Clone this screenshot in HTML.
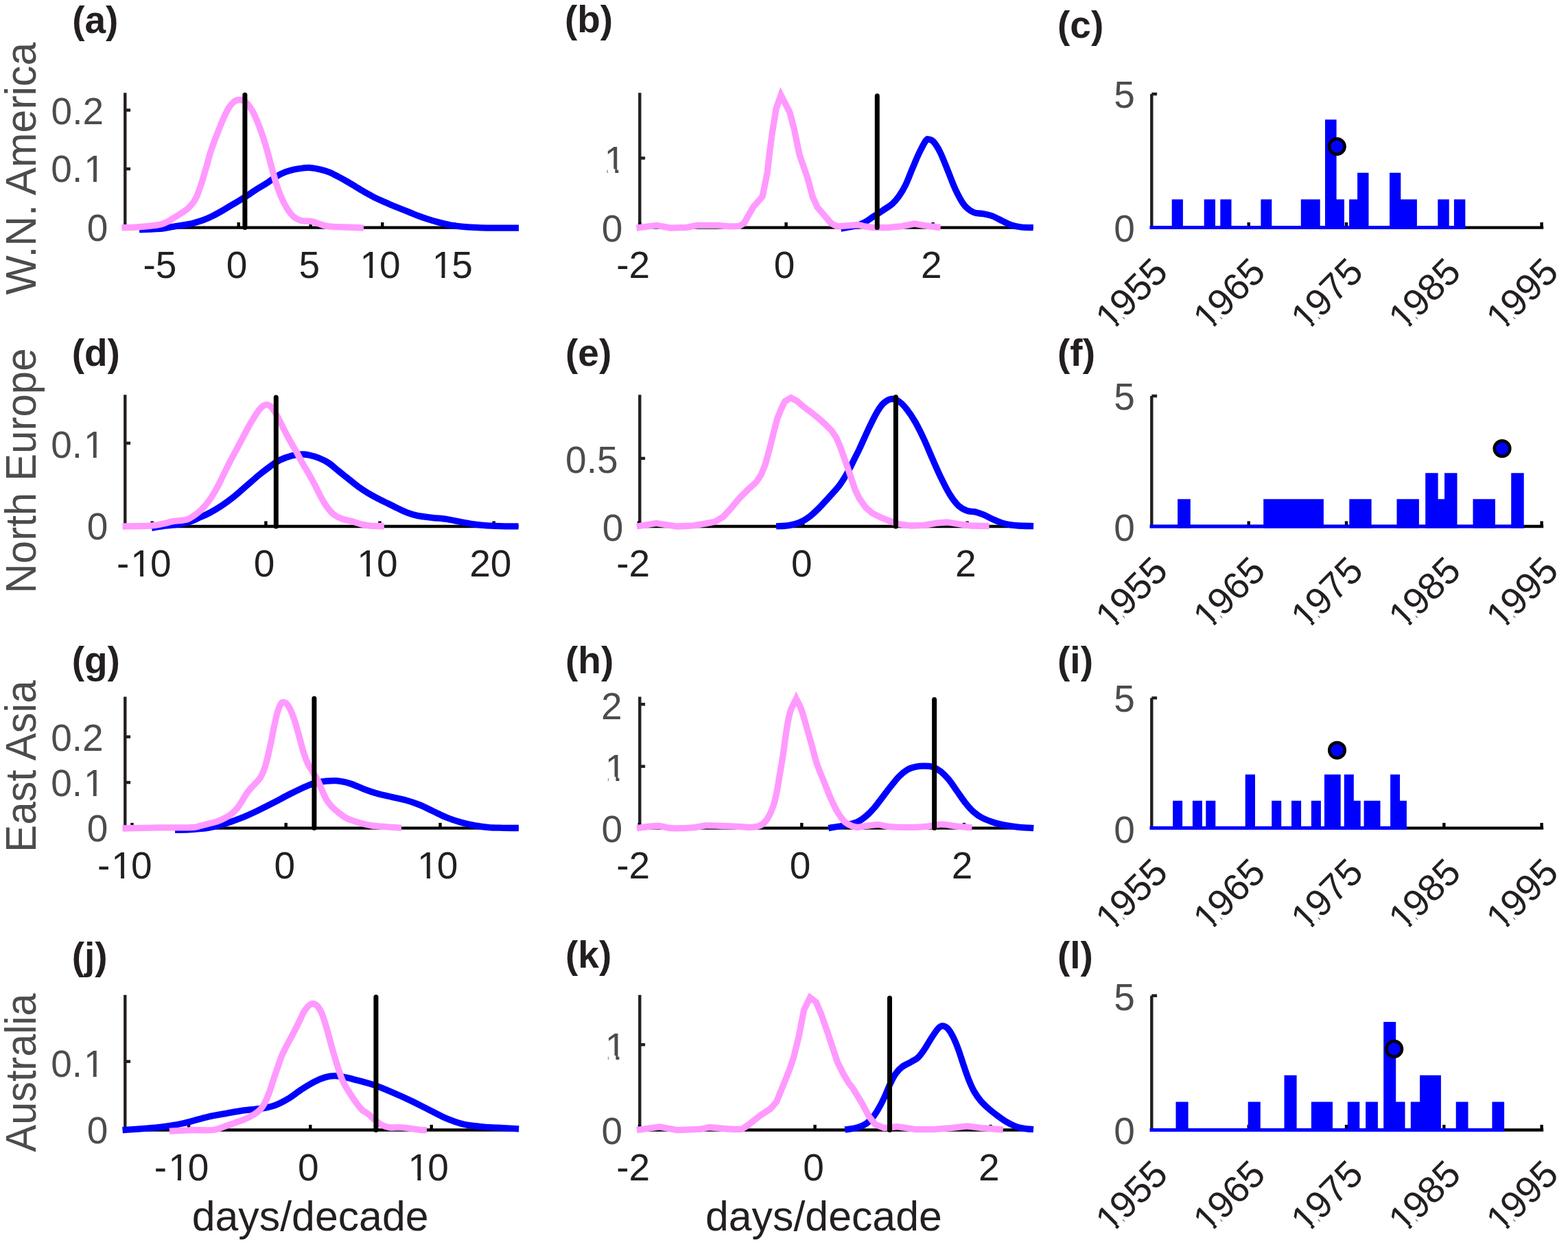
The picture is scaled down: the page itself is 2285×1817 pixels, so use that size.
<!DOCTYPE html>
<html><head><meta charset="utf-8"><style>
html,body{margin:0;padding:0;background:#fff;}
svg{display:block;}
text{font-family:"Liberation Sans",Arial,sans-serif;}
</style></head><body>
<svg xmlns="http://www.w3.org/2000/svg" width="2285" height="1817" viewBox="0 0 2285 1817">
<rect x="0" y="0" width="2285" height="1817" fill="#ffffff"/>
<line x1="182.3" y1="135.2" x2="182.3" y2="333.8" stroke="#231f20" stroke-width="4.4" stroke-linecap="butt"/>
<line x1="182.3" y1="246.1" x2="190.1" y2="246.1" stroke="#231f20" stroke-width="4.4" stroke-linecap="butt"/>
<line x1="182.3" y1="160.5" x2="190.1" y2="160.5" stroke="#231f20" stroke-width="4.4" stroke-linecap="butt"/>
<line x1="180.1" y1="331.6" x2="755.7" y2="331.6" stroke="#000000" stroke-width="4.4" stroke-linecap="butt"/>
<line x1="243.2" y1="331.6" x2="243.2" y2="324" stroke="#000000" stroke-width="4.4" stroke-linecap="butt"/>
<line x1="347.7" y1="331.6" x2="347.7" y2="324" stroke="#000000" stroke-width="4.4" stroke-linecap="butt"/>
<line x1="452.7" y1="331.6" x2="452.7" y2="324" stroke="#000000" stroke-width="4.4" stroke-linecap="butt"/>
<line x1="557.2" y1="331.6" x2="557.2" y2="324" stroke="#000000" stroke-width="4.4" stroke-linecap="butt"/>
<line x1="661.7" y1="331.6" x2="661.7" y2="324" stroke="#000000" stroke-width="4.4" stroke-linecap="butt"/>
<line x1="932.3" y1="135.2" x2="932.3" y2="333.8" stroke="#231f20" stroke-width="4.4" stroke-linecap="butt"/>
<line x1="932.3" y1="230.4" x2="940.1" y2="230.4" stroke="#231f20" stroke-width="4.4" stroke-linecap="butt"/>
<line x1="930.1" y1="331.6" x2="1505.7" y2="331.6" stroke="#000000" stroke-width="4.4" stroke-linecap="butt"/>
<line x1="932.4" y1="331.6" x2="932.4" y2="324" stroke="#000000" stroke-width="4.4" stroke-linecap="butt"/>
<line x1="1145.6" y1="331.6" x2="1145.6" y2="324" stroke="#000000" stroke-width="4.4" stroke-linecap="butt"/>
<line x1="1359.5" y1="331.6" x2="1359.5" y2="324" stroke="#000000" stroke-width="4.4" stroke-linecap="butt"/>
<line x1="1678.3" y1="137" x2="1678.3" y2="333.8" stroke="#231f20" stroke-width="4.4" stroke-linecap="butt"/>
<line x1="1678.3" y1="137" x2="1686.1" y2="137" stroke="#231f20" stroke-width="4.4" stroke-linecap="butt"/>
<line x1="1676.1" y1="331.6" x2="2249.2" y2="331.6" stroke="#000000" stroke-width="4.4" stroke-linecap="butt"/>
<line x1="1819.7" y1="331.6" x2="1819.7" y2="324" stroke="#000000" stroke-width="4.4" stroke-linecap="butt"/>
<line x1="1962" y1="331.6" x2="1962" y2="324" stroke="#000000" stroke-width="4.4" stroke-linecap="butt"/>
<line x1="2104.3" y1="331.6" x2="2104.3" y2="324" stroke="#000000" stroke-width="4.4" stroke-linecap="butt"/>
<line x1="2246.6" y1="331.6" x2="2246.6" y2="324" stroke="#000000" stroke-width="4.4" stroke-linecap="butt"/>
<line x1="182.3" y1="575.2" x2="182.3" y2="769.2" stroke="#231f20" stroke-width="4.4" stroke-linecap="butt"/>
<line x1="182.3" y1="645.7" x2="190.1" y2="645.7" stroke="#231f20" stroke-width="4.4" stroke-linecap="butt"/>
<line x1="180.1" y1="767" x2="755.7" y2="767" stroke="#000000" stroke-width="4.4" stroke-linecap="butt"/>
<line x1="221.7" y1="767" x2="221.7" y2="759.4" stroke="#000000" stroke-width="4.4" stroke-linecap="butt"/>
<line x1="387.4" y1="767" x2="387.4" y2="759.4" stroke="#000000" stroke-width="4.4" stroke-linecap="butt"/>
<line x1="553.5" y1="767" x2="553.5" y2="759.4" stroke="#000000" stroke-width="4.4" stroke-linecap="butt"/>
<line x1="719.7" y1="767" x2="719.7" y2="759.4" stroke="#000000" stroke-width="4.4" stroke-linecap="butt"/>
<line x1="932.3" y1="575.2" x2="932.3" y2="769.2" stroke="#231f20" stroke-width="4.4" stroke-linecap="butt"/>
<line x1="932.3" y1="667.9" x2="940.1" y2="667.9" stroke="#231f20" stroke-width="4.4" stroke-linecap="butt"/>
<line x1="930.1" y1="767" x2="1505.7" y2="767" stroke="#000000" stroke-width="4.4" stroke-linecap="butt"/>
<line x1="931" y1="767" x2="931" y2="759.4" stroke="#000000" stroke-width="4.4" stroke-linecap="butt"/>
<line x1="1170.3" y1="767" x2="1170.3" y2="759.4" stroke="#000000" stroke-width="4.4" stroke-linecap="butt"/>
<line x1="1409.6" y1="767" x2="1409.6" y2="759.4" stroke="#000000" stroke-width="4.4" stroke-linecap="butt"/>
<line x1="1678.3" y1="577" x2="1678.3" y2="769.2" stroke="#231f20" stroke-width="4.4" stroke-linecap="butt"/>
<line x1="1678.3" y1="577" x2="1686.1" y2="577" stroke="#231f20" stroke-width="4.4" stroke-linecap="butt"/>
<line x1="1676.1" y1="767" x2="2249.2" y2="767" stroke="#000000" stroke-width="4.4" stroke-linecap="butt"/>
<line x1="1819.7" y1="767" x2="1819.7" y2="759.4" stroke="#000000" stroke-width="4.4" stroke-linecap="butt"/>
<line x1="1962" y1="767" x2="1962" y2="759.4" stroke="#000000" stroke-width="4.4" stroke-linecap="butt"/>
<line x1="2104.3" y1="767" x2="2104.3" y2="759.4" stroke="#000000" stroke-width="4.4" stroke-linecap="butt"/>
<line x1="2246.6" y1="767" x2="2246.6" y2="759.4" stroke="#000000" stroke-width="4.4" stroke-linecap="butt"/>
<line x1="182.3" y1="1015.2" x2="182.3" y2="1208.8" stroke="#231f20" stroke-width="4.4" stroke-linecap="butt"/>
<line x1="182.3" y1="1140.1" x2="190.1" y2="1140.1" stroke="#231f20" stroke-width="4.4" stroke-linecap="butt"/>
<line x1="182.3" y1="1073.6" x2="190.1" y2="1073.6" stroke="#231f20" stroke-width="4.4" stroke-linecap="butt"/>
<line x1="180.1" y1="1206.6" x2="755.7" y2="1206.6" stroke="#000000" stroke-width="4.4" stroke-linecap="butt"/>
<line x1="192.5" y1="1206.6" x2="192.5" y2="1199" stroke="#000000" stroke-width="4.4" stroke-linecap="butt"/>
<line x1="416.7" y1="1206.6" x2="416.7" y2="1199" stroke="#000000" stroke-width="4.4" stroke-linecap="butt"/>
<line x1="641.5" y1="1206.6" x2="641.5" y2="1199" stroke="#000000" stroke-width="4.4" stroke-linecap="butt"/>
<line x1="932.3" y1="1015.2" x2="932.3" y2="1208.8" stroke="#231f20" stroke-width="4.4" stroke-linecap="butt"/>
<line x1="932.3" y1="1116.7" x2="940.1" y2="1116.7" stroke="#231f20" stroke-width="4.4" stroke-linecap="butt"/>
<line x1="932.3" y1="1026.2" x2="940.1" y2="1026.2" stroke="#231f20" stroke-width="4.4" stroke-linecap="butt"/>
<line x1="930.1" y1="1206.6" x2="1505.7" y2="1206.6" stroke="#000000" stroke-width="4.4" stroke-linecap="butt"/>
<line x1="931.7" y1="1206.6" x2="931.7" y2="1199" stroke="#000000" stroke-width="4.4" stroke-linecap="butt"/>
<line x1="1168.3" y1="1206.6" x2="1168.3" y2="1199" stroke="#000000" stroke-width="4.4" stroke-linecap="butt"/>
<line x1="1404.9" y1="1206.6" x2="1404.9" y2="1199" stroke="#000000" stroke-width="4.4" stroke-linecap="butt"/>
<line x1="1678.3" y1="1017" x2="1678.3" y2="1208.8" stroke="#231f20" stroke-width="4.4" stroke-linecap="butt"/>
<line x1="1678.3" y1="1017" x2="1686.1" y2="1017" stroke="#231f20" stroke-width="4.4" stroke-linecap="butt"/>
<line x1="1676.1" y1="1206.6" x2="2249.2" y2="1206.6" stroke="#000000" stroke-width="4.4" stroke-linecap="butt"/>
<line x1="1819.7" y1="1206.6" x2="1819.7" y2="1199" stroke="#000000" stroke-width="4.4" stroke-linecap="butt"/>
<line x1="1962" y1="1206.6" x2="1962" y2="1199" stroke="#000000" stroke-width="4.4" stroke-linecap="butt"/>
<line x1="2104.3" y1="1206.6" x2="2104.3" y2="1199" stroke="#000000" stroke-width="4.4" stroke-linecap="butt"/>
<line x1="2246.6" y1="1206.6" x2="2246.6" y2="1199" stroke="#000000" stroke-width="4.4" stroke-linecap="butt"/>
<line x1="182.3" y1="1449.8" x2="182.3" y2="1648.7" stroke="#231f20" stroke-width="4.4" stroke-linecap="butt"/>
<line x1="182.3" y1="1546.7" x2="190.1" y2="1546.7" stroke="#231f20" stroke-width="4.4" stroke-linecap="butt"/>
<line x1="180.1" y1="1646.5" x2="755.7" y2="1646.5" stroke="#000000" stroke-width="4.4" stroke-linecap="butt"/>
<line x1="275.1" y1="1646.5" x2="275.1" y2="1638.9" stroke="#000000" stroke-width="4.4" stroke-linecap="butt"/>
<line x1="452.3" y1="1646.5" x2="452.3" y2="1638.9" stroke="#000000" stroke-width="4.4" stroke-linecap="butt"/>
<line x1="628.7" y1="1646.5" x2="628.7" y2="1638.9" stroke="#000000" stroke-width="4.4" stroke-linecap="butt"/>
<line x1="932.3" y1="1449.8" x2="932.3" y2="1648.7" stroke="#231f20" stroke-width="4.4" stroke-linecap="butt"/>
<line x1="932.3" y1="1522.2" x2="940.1" y2="1522.2" stroke="#231f20" stroke-width="4.4" stroke-linecap="butt"/>
<line x1="930.1" y1="1646.5" x2="1505.7" y2="1646.5" stroke="#000000" stroke-width="4.4" stroke-linecap="butt"/>
<line x1="931.9" y1="1646.5" x2="931.9" y2="1638.9" stroke="#000000" stroke-width="4.4" stroke-linecap="butt"/>
<line x1="1187.6" y1="1646.5" x2="1187.6" y2="1638.9" stroke="#000000" stroke-width="4.4" stroke-linecap="butt"/>
<line x1="1443.5" y1="1646.5" x2="1443.5" y2="1638.9" stroke="#000000" stroke-width="4.4" stroke-linecap="butt"/>
<line x1="1678.3" y1="1450.8" x2="1678.3" y2="1648.7" stroke="#231f20" stroke-width="4.4" stroke-linecap="butt"/>
<line x1="1678.3" y1="1450.8" x2="1686.1" y2="1450.8" stroke="#231f20" stroke-width="4.4" stroke-linecap="butt"/>
<line x1="1676.1" y1="1646.5" x2="2249.2" y2="1646.5" stroke="#000000" stroke-width="4.4" stroke-linecap="butt"/>
<line x1="1819.7" y1="1646.5" x2="1819.7" y2="1638.9" stroke="#000000" stroke-width="4.4" stroke-linecap="butt"/>
<line x1="1962" y1="1646.5" x2="1962" y2="1638.9" stroke="#000000" stroke-width="4.4" stroke-linecap="butt"/>
<line x1="2104.3" y1="1646.5" x2="2104.3" y2="1638.9" stroke="#000000" stroke-width="4.4" stroke-linecap="butt"/>
<line x1="2246.6" y1="1646.5" x2="2246.6" y2="1638.9" stroke="#000000" stroke-width="4.4" stroke-linecap="butt"/>
<path d="M203,334.5 C208.63,334.25 228.7,333.68 236.8,333 C244.9,332.32 246.65,331.2 251.6,330.4 C256.55,329.6 261.55,329.07 266.5,328.2 C271.45,327.33 276.35,326.45 281.3,325.2 C286.25,323.95 291.25,322.55 296.2,320.7 C301.15,318.85 306.08,316.55 311,314.1 C315.92,311.65 321.12,308.63 325.7,306 C330.28,303.37 334.23,300.87 338.5,298.3 C342.77,295.73 347.02,293.27 351.3,290.6 C355.58,287.93 359.92,285.08 364.2,282.3 C368.48,279.52 372.72,276.58 377,273.9 C381.28,271.22 385.62,268.98 389.9,266.2 C394.18,263.42 398.43,259.77 402.7,257.2 C406.97,254.63 411.22,252.5 415.5,250.8 C419.78,249.1 424.12,247.97 428.4,247 C432.68,246.03 437.35,245.43 441.2,245 C445.05,244.57 447.22,244.07 451.5,244.4 C455.78,244.73 462.15,245.9 466.9,247 C471.65,248.1 475.65,249.25 480,251 C484.35,252.75 488.67,255.23 493,257.5 C497.33,259.77 501.67,262.12 506,264.6 C510.33,267.08 514.67,269.8 519,272.4 C523.33,275 527.68,277.72 532,280.2 C536.32,282.68 540.58,285.13 544.9,287.3 C549.22,289.47 553.57,291.25 557.9,293.2 C562.23,295.15 566.57,297.17 570.9,299 C575.23,300.83 579.57,302.47 583.9,304.2 C588.23,305.93 592.57,307.67 596.9,309.4 C601.23,311.13 605.57,312.97 609.9,314.6 C614.23,316.23 618.58,317.78 622.9,319.2 C627.22,320.62 631.48,321.92 635.8,323.1 C640.12,324.28 644.47,325.33 648.8,326.3 C653.13,327.27 656.38,328.15 661.8,328.9 C667.22,329.65 674.8,330.32 681.3,330.8 C687.8,331.28 693.22,331.58 700.8,331.8 C708.38,332.02 717.6,332.05 726.8,332.1 C736,332.15 751.13,332.1 756,332.1" fill="none" stroke="#0000ff" stroke-width="9.3" stroke-linejoin="round" stroke-miterlimit="10" stroke-linecap="butt"/>
<path d="M177.4,331.9 C181.12,331.72 192.27,331.3 199.7,330.8 C207.13,330.3 216.07,329.58 222,328.9 C227.93,328.22 231.6,327.68 235.3,326.7 C239,325.72 241.48,324.37 244.2,323 C246.92,321.63 248.5,320.42 251.6,318.5 C254.7,316.58 259.08,313.97 262.8,311.5 C266.52,309.03 270.82,306.37 273.9,303.7 C276.98,301.03 279.32,298.1 281.3,295.5 C283.28,292.9 284.32,291.18 285.8,288.1 C287.28,285.02 288.72,281.08 290.2,277 C291.68,272.92 293.33,267.93 294.7,263.6 C296.07,259.27 297.17,255.2 298.4,251 C299.63,246.8 300.77,243.13 302.1,238.4 C303.43,233.67 304.62,228.23 306.4,222.6 C308.18,216.97 310.65,210.38 312.8,204.6 C314.95,198.82 317.15,193.25 319.3,187.9 C321.45,182.55 323.35,177.63 325.7,172.5 C328.05,167.37 330.83,161.17 333.4,157.1 C335.97,153.03 338.53,150.03 341.1,148.1 C343.67,146.17 346.23,145.6 348.8,145.5 C351.37,145.4 353.93,145.78 356.5,147.5 C359.07,149.22 361.63,152.07 364.2,155.8 C366.77,159.53 369.33,164.33 371.9,169.9 C374.47,175.47 377.03,182.13 379.6,189.2 C382.17,196.27 384.73,203.75 387.3,212.3 C389.87,220.85 392.65,231.95 395,240.5 C397.35,249.05 399.05,256.1 401.4,263.6 C403.75,271.1 406.32,278.87 409.1,285.5 C411.88,292.13 414.88,298.27 418.1,303.4 C421.32,308.53 424.98,313.3 428.4,316.3 C431.82,319.3 434.33,320.33 438.6,321.4 C442.87,322.47 449.72,321.95 454,322.7 C458.28,323.45 460.87,324.83 464.3,325.9 C467.73,326.97 471.15,328.35 474.6,329.1 C478.05,329.85 480.85,330.12 485,330.4 C489.15,330.68 492,330.52 499.5,330.8 C507,331.08 524.92,331.88 530,332.1" fill="none" stroke="#ff99ff" stroke-width="9.3" stroke-linejoin="round" stroke-miterlimit="10" stroke-linecap="butt"/>
<line x1="356.9" y1="138.2" x2="356.9" y2="331.6" stroke="#000000" stroke-width="7" stroke-linecap="round"/>
<path d="M1225.3,333.1 C1228.55,332.52 1239.23,331 1244.8,329.6 C1250.37,328.2 1254.07,327.02 1258.7,324.7 C1263.33,322.38 1267.97,318.72 1272.6,315.7 C1277.23,312.68 1281.87,309.73 1286.5,306.6 C1291.13,303.47 1296.45,300.38 1300.4,296.9 C1304.35,293.42 1306.95,290.35 1310.2,285.7 C1313.45,281.05 1316.65,275.72 1319.9,269 C1323.15,262.28 1326.45,253.05 1329.7,245.4 C1332.95,237.75 1336.17,229.83 1339.4,223.1 C1342.63,216.37 1346.78,208.35 1349.1,205 C1351.42,201.65 1351.43,202.77 1353.3,203 C1355.17,203.23 1357.52,203.28 1360.3,206.4 C1363.08,209.52 1366.53,214.73 1370,221.7 C1373.47,228.67 1377.38,239.15 1381.1,248.2 C1384.82,257.25 1388.35,267.65 1392.3,276 C1396.25,284.35 1400.4,292.73 1404.8,298.3 C1409.2,303.87 1414.07,307.2 1418.7,309.4 C1423.33,311.6 1427.97,310.57 1432.6,311.5 C1437.23,312.43 1441.85,313.27 1446.5,315 C1451.15,316.73 1455.85,319.7 1460.5,321.9 C1465.15,324.1 1469.77,326.68 1474.4,328.2 C1479.03,329.72 1483.08,330.42 1488.3,331 C1493.52,331.58 1502.8,331.58 1505.7,331.7" fill="none" stroke="#0000ff" stroke-width="9.3" stroke-linejoin="round" stroke-miterlimit="10" stroke-linecap="butt"/>
<polyline points="927.5,332.1 956.9,328.4 976.5,332.1 1001,331.4 1015.7,328.4 1045,328.4 1059.8,329.7 1070,329.9 1077.7,329.3 1084.1,325.4 1097.6,301.7 1111.1,286.3 1118.1,252.2 1121.4,222.7 1125.2,194.5 1131,158.5 1138,138.6 1150.9,163.7 1157.3,188 1165,225.3 1176.6,258.7 1184.3,286.9 1191.3,302.3 1211.2,325.4 1220.2,329.9 1236.9,328.6 1250,327.5 1258.7,329.6 1272.6,331.7 1293.5,331.7 1314.4,329.6 1332.4,326.1 1349.1,328.9 1370.7,331.7" fill="none" stroke="#ff99ff" stroke-width="9.3" stroke-linejoin="miter" stroke-miterlimit="10" stroke-linecap="butt"/>
<line x1="1278.3" y1="139.8" x2="1278.3" y2="331.6" stroke="#000000" stroke-width="7" stroke-linecap="round"/>
<path d="M221,769.4 C224.17,768.87 233.85,767.03 240,766.2 C246.15,765.37 252.32,765.2 257.9,764.4 C263.48,763.6 268.5,762.9 273.5,761.4 C278.5,759.9 282.52,757.78 287.9,755.4 C293.28,753.02 299.83,750.28 305.8,747.1 C311.77,743.92 317.72,740.3 323.7,736.3 C329.68,732.3 335.72,727.88 341.7,723.1 C347.68,718.32 353.62,712.78 359.6,707.6 C365.58,702.42 372.02,696.58 377.6,692 C383.18,687.42 388.12,683.68 393.1,680.1 C398.08,676.52 402.12,673.2 407.5,670.5 C412.88,667.8 419.98,665.32 425.4,663.9 C430.82,662.48 435.9,662.15 440,662 C444.1,661.85 445.93,662.12 450,663 C454.07,663.88 459.6,665.38 464.4,667.3 C469.2,669.22 474.02,671.38 478.8,674.5 C483.58,677.62 488.32,682.17 493.1,686 C497.88,689.83 502.7,693.67 507.5,697.5 C512.3,701.33 517.1,705.52 521.9,709 C526.7,712.48 531.52,715.52 536.3,718.4 C541.08,721.28 545.82,723.78 550.6,726.3 C555.38,728.82 560.2,731.12 565,733.5 C569.8,735.88 574.6,738.33 579.4,740.6 C584.2,742.87 589,745.3 593.8,747.1 C598.6,748.9 602.22,750.2 608.2,751.4 C614.18,752.6 622.52,753.45 629.7,754.3 C636.88,755.15 644.1,755.42 651.3,756.5 C658.5,757.58 665.72,759.48 672.9,760.8 C680.08,762.12 687.22,763.5 694.4,764.4 C701.58,765.3 708.8,765.8 716,766.2 C723.2,766.6 731.02,766.7 737.6,766.8 C744.18,766.9 752.52,766.8 755.5,766.8" fill="none" stroke="#0000ff" stroke-width="9.3" stroke-linejoin="round" stroke-miterlimit="10" stroke-linecap="butt"/>
<path d="M178.5,767 C185.7,766.82 211.45,766.63 221.7,765.9 C231.95,765.17 234.95,763.65 240,762.6 C245.05,761.55 248.02,760.3 252,759.6 C255.98,758.9 260.32,758.9 263.9,758.4 C267.48,757.9 270.5,757.7 273.5,756.6 C276.5,755.5 278.52,754.18 281.9,751.8 C285.28,749.42 289.82,746.28 293.8,742.3 C297.78,738.32 302,733.28 305.8,727.9 C309.6,722.52 313.22,716.18 316.6,710 C319.98,703.82 322.92,697.18 326.1,690.8 C329.28,684.42 332.5,677.88 335.7,671.7 C338.9,665.52 342.12,659.68 345.3,653.7 C348.48,647.72 351.62,641.77 354.8,635.8 C357.98,629.83 361.2,623.48 364.4,617.9 C367.6,612.32 371.2,606.4 374,602.3 C376.8,598.2 378.82,595.4 381.2,593.3 C383.58,591.2 386.12,589.9 388.3,589.7 C390.48,589.5 392.3,590.4 394.3,592.1 C396.3,593.8 398.1,596.4 400.3,599.9 C402.5,603.4 405.1,608.52 407.5,613.1 C409.9,617.68 412.12,622.42 414.7,627.4 C417.28,632.38 420.22,638.02 423,643 C425.78,647.98 428.4,651.92 431.4,657.3 C434.4,662.68 437.9,669.77 441,675.3 C444.1,680.83 447.07,685.37 450,690.5 C452.93,695.63 455.72,700.62 458.6,706.1 C461.48,711.58 464.42,718.12 467.3,723.4 C470.18,728.68 472.8,733.48 475.9,737.8 C479,742.12 482.32,746.32 485.9,749.3 C489.48,752.28 493.08,754.03 497.4,755.7 C501.72,757.37 507,757.97 511.8,759.3 C516.6,760.63 521.65,762.55 526.2,763.7 C530.75,764.85 533.47,765.68 539.1,766.2 C544.73,766.72 556.52,766.7 560,766.8" fill="none" stroke="#ff99ff" stroke-width="9.3" stroke-linejoin="round" stroke-miterlimit="10" stroke-linecap="butt"/>
<line x1="402.3" y1="578.9" x2="402.3" y2="767" stroke="#000000" stroke-width="7" stroke-linecap="round"/>
<path d="M1131.1,766.8 C1134.18,766.6 1143.92,766.5 1149.6,765.6 C1155.28,764.7 1160.22,763.5 1165.2,761.4 C1170.18,759.3 1174.72,756.58 1179.5,753 C1184.28,749.42 1188.92,744.88 1193.9,739.9 C1198.88,734.92 1204.42,728.68 1209.4,723.1 C1214.38,717.52 1219.4,712.38 1223.8,706.4 C1228.2,700.42 1232.22,693.53 1235.8,687.2 C1239.38,680.87 1242.52,673.95 1245.3,668.4 C1248.08,662.85 1249.22,660.9 1252.5,653.9 C1255.78,646.9 1260.82,635.17 1265,626.4 C1269.18,617.63 1273.83,607.78 1277.6,601.3 C1281.37,594.82 1284.05,590.83 1287.6,587.5 C1291.15,584.17 1295.15,581.72 1298.9,581.3 C1302.65,580.88 1306.35,582.5 1310.1,585 C1313.85,587.5 1317.43,591.28 1321.4,596.3 C1325.37,601.32 1329.72,607.8 1333.9,615.1 C1338.08,622.4 1342.32,631.13 1346.5,640.1 C1350.68,649.07 1354.83,659.5 1359,668.9 C1363.17,678.3 1367.33,687.93 1371.5,696.5 C1375.67,705.07 1379.83,713.62 1384,720.3 C1388.17,726.98 1392.32,732.63 1396.5,736.6 C1400.68,740.57 1404.92,742.53 1409.1,744.1 C1413.28,745.67 1417.43,744.97 1421.6,746 C1425.77,747.03 1429.93,748.53 1434.1,750.3 C1438.27,752.07 1442.42,754.72 1446.6,756.6 C1450.78,758.48 1455.02,760.25 1459.2,761.6 C1463.38,762.95 1467.53,763.97 1471.7,764.7 C1475.87,765.43 1478.47,765.68 1484.2,766 C1489.93,766.32 1502.45,766.5 1506.1,766.6" fill="none" stroke="#0000ff" stroke-width="9.3" stroke-linejoin="round" stroke-miterlimit="10" stroke-linecap="butt"/>
<polyline points="927.9,767 956.4,762.4 986.7,767 1010,765.9 1030,762.6 1042,760.2 1053.9,753 1065.9,739.9 1077.9,725.5 1089.8,713.6 1101.8,702.8 1109,692 1114.9,677.7 1120.9,656.1 1126.9,632.2 1132.9,609.5 1137.7,597.5 1143.6,585 1152.6,579.6 1161.6,584.4 1171.2,592.7 1180.7,599.9 1191.5,608.3 1202.3,617.9 1211.8,627.4 1219,638.2 1225,652.5 1232.2,672.9 1240,695.2 1246.3,714 1252.5,726.5 1261.3,739.1 1271.3,747.8 1283.8,754.1 1296.4,759.1 1308.9,763.5 1327.7,766 1346.5,765.4 1365.2,762.2 1380.3,761 1396.5,763.5 1415.3,766 1441.6,766.6" fill="none" stroke="#ff99ff" stroke-width="9.3" stroke-linejoin="miter" stroke-miterlimit="10" stroke-linecap="butt"/>
<line x1="1305.4" y1="578.5" x2="1305.4" y2="767" stroke="#000000" stroke-width="7" stroke-linecap="round"/>
<path d="M255,1209.4 C259.17,1209.27 271.85,1209.13 280,1208.6 C288.15,1208.07 295.93,1207.6 303.9,1206.2 C311.87,1204.8 319.82,1202.6 327.8,1200.2 C335.78,1197.8 343.82,1194.98 351.8,1191.8 C359.78,1188.62 367.73,1184.88 375.7,1181.1 C383.67,1177.32 391.63,1173.2 399.6,1169.1 C407.57,1165 415.52,1160.48 423.5,1156.5 C431.48,1152.52 440.52,1148.05 447.5,1145.2 C454.48,1142.35 458.28,1140.65 465.4,1139.4 C472.52,1138.15 482.7,1137.32 490.2,1137.7 C497.7,1138.08 503.68,1139.68 510.4,1141.7 C517.12,1143.72 523.78,1147.33 530.5,1149.8 C537.22,1152.27 543.97,1154.6 550.7,1156.5 C557.43,1158.4 564.17,1159.63 570.9,1161.2 C577.63,1162.77 584.38,1164 591.1,1165.9 C597.82,1167.8 604.48,1169.9 611.2,1172.6 C617.92,1175.3 624.67,1178.95 631.4,1182.1 C638.13,1185.25 644.87,1188.82 651.6,1191.5 C658.33,1194.18 665.07,1196.3 671.8,1198.2 C678.53,1200.1 685.28,1201.67 692,1202.9 C698.72,1204.13 705.38,1205.03 712.1,1205.6 C718.82,1206.17 725,1206.15 732.3,1206.3 C739.6,1206.45 751.97,1206.47 755.9,1206.5" fill="none" stroke="#0000ff" stroke-width="9.3" stroke-linejoin="round" stroke-miterlimit="10" stroke-linecap="butt"/>
<path d="M178.5,1207 C187.65,1206.82 216.48,1206.13 233.4,1205.9 C250.32,1205.67 270.23,1206.05 280,1205.6 C289.77,1205.15 288.02,1204.1 292,1203.2 C295.98,1202.3 299.92,1201.2 303.9,1200.2 C307.88,1199.2 311.92,1198.6 315.9,1197.2 C319.88,1195.8 324.22,1193.7 327.8,1191.8 C331.38,1189.9 334.4,1188.18 337.4,1185.8 C340.4,1183.42 343.2,1180.68 345.8,1177.5 C348.4,1174.32 350.42,1170.7 353,1166.7 C355.58,1162.7 358.32,1157.48 361.3,1153.5 C364.28,1149.52 367.9,1146.18 370.9,1142.8 C373.9,1139.42 376.9,1137 379.3,1133.2 C381.7,1129.4 383.52,1124.98 385.3,1120 C387.08,1115.02 388.42,1109.67 390,1103.3 C391.58,1096.93 393.2,1089.38 394.8,1081.8 C396.4,1074.22 398,1065.18 399.6,1057.8 C401.2,1050.42 402.8,1042.87 404.4,1037.5 C406,1032.13 407.8,1027.98 409.2,1025.6 C410.6,1023.22 411.2,1023.02 412.8,1023.2 C414.4,1023.38 416.82,1024.32 418.8,1026.7 C420.78,1029.08 422.72,1032.9 424.7,1037.5 C426.68,1042.1 428.7,1047.92 430.7,1054.3 C432.7,1060.68 434.7,1068.63 436.7,1075.8 C438.7,1082.97 440.7,1091.12 442.7,1097.3 C444.7,1103.48 446.52,1108.32 448.7,1112.9 C450.88,1117.48 453.42,1120.82 455.8,1124.8 C458.18,1128.78 460.6,1132.02 463,1136.8 C465.4,1141.58 468.13,1148.87 470.2,1153.5 C472.27,1158.13 473.18,1160.97 475.4,1164.6 C477.62,1168.23 480.37,1171.95 483.5,1175.3 C486.63,1178.65 490.4,1181.78 494.2,1184.7 C498,1187.62 501.37,1190.43 506.3,1192.8 C511.23,1195.17 517.97,1197.22 523.8,1198.9 C529.63,1200.58 534.57,1201.9 541.3,1202.9 C548.03,1203.9 556.92,1204.33 564.2,1204.9 C571.48,1205.47 581.53,1206.07 585,1206.3" fill="none" stroke="#ff99ff" stroke-width="9.3" stroke-linejoin="round" stroke-miterlimit="10" stroke-linecap="butt"/>
<line x1="457.9" y1="1017.7" x2="457.9" y2="1206.6" stroke="#000000" stroke-width="7" stroke-linecap="round"/>
<path d="M1207.3,1206.6 C1210.75,1206.05 1222.55,1204.32 1228,1203.3 C1233.45,1202.28 1236.33,1201.47 1240,1200.5 C1243.67,1199.53 1246.32,1199.4 1250,1197.5 C1253.68,1195.6 1258.08,1192.52 1262.1,1189.1 C1266.12,1185.68 1270.08,1181.63 1274.1,1177 C1278.12,1172.37 1282.18,1166.52 1286.2,1161.3 C1290.22,1156.08 1294.18,1150.72 1298.2,1145.7 C1302.22,1140.68 1306.27,1135.23 1310.3,1131.2 C1314.33,1127.17 1318.38,1123.82 1322.4,1121.5 C1326.42,1119.18 1330.38,1118.2 1334.4,1117.3 C1338.42,1116.4 1342.48,1116.1 1346.5,1116.1 C1350.52,1116.1 1354.48,1116 1358.5,1117.3 C1362.52,1118.6 1366.57,1120.78 1370.6,1123.9 C1374.63,1127.02 1378.68,1131.17 1382.7,1136 C1386.72,1140.83 1390.68,1147.27 1394.7,1152.9 C1398.72,1158.53 1402.78,1164.78 1406.8,1169.8 C1410.82,1174.82 1414.78,1179.38 1418.8,1183 C1422.82,1186.62 1425.87,1188.88 1430.9,1191.5 C1435.93,1194.12 1442.97,1196.8 1449,1198.7 C1455.03,1200.6 1461.07,1201.8 1467.1,1202.9 C1473.13,1204 1478.67,1204.68 1485.2,1205.3 C1491.73,1205.92 1502.78,1206.38 1506.3,1206.6" fill="none" stroke="#0000ff" stroke-width="9.3" stroke-linejoin="round" stroke-miterlimit="10" stroke-linecap="butt"/>
<path d="M927.9,1206.6 C933.03,1206.08 950.45,1203.5 958.7,1203.5 C966.95,1203.5 968.85,1206.2 977.4,1206.6 C985.95,1207 1001.45,1206.52 1010,1205.9 C1018.55,1205.28 1021.7,1203.3 1028.7,1202.9 C1035.7,1202.5 1043.45,1203.2 1052,1203.5 C1060.55,1203.8 1073.67,1204.37 1080,1204.7 C1086.33,1205.03 1086.25,1205.53 1090,1205.5 C1093.75,1205.47 1098.95,1205.28 1102.5,1204.5 C1106.05,1203.72 1108.57,1202.88 1111.3,1200.8 C1114.03,1198.72 1116.38,1196.18 1118.9,1192 C1121.42,1187.82 1124.32,1181.57 1126.4,1175.7 C1128.48,1169.83 1129.73,1164.75 1131.4,1156.8 C1133.07,1148.85 1134.73,1137.82 1136.4,1128 C1138.07,1118.18 1139.93,1107.52 1141.4,1097.9 C1142.87,1088.28 1143.93,1078.67 1145.2,1070.3 C1146.47,1061.93 1147.75,1053.77 1149,1047.7 C1150.25,1041.63 1150.82,1038.82 1152.7,1033.9 C1154.58,1028.98 1159.03,1020.82 1160.3,1018.2 C1161.55,1020.82 1165.3,1027.1 1167.8,1033.9 C1170.3,1040.7 1172.8,1050.43 1175.3,1059 C1177.8,1067.57 1180.28,1076.32 1182.8,1085.3 C1185.32,1094.28 1187.47,1104.12 1190.4,1112.9 C1193.33,1121.68 1197.05,1129.63 1200.4,1138 C1203.75,1146.37 1207.15,1155.57 1210.5,1163.1 C1213.85,1170.63 1217.17,1177.55 1220.5,1183.2 C1223.83,1188.85 1227.15,1193.65 1230.5,1197 C1233.85,1200.35 1237.35,1201.88 1240.6,1203.3 C1243.85,1204.72 1246.42,1205.47 1250,1205.5 C1253.58,1205.53 1257.08,1204.13 1262.1,1203.5 C1267.12,1202.87 1275.08,1201.6 1280.1,1201.7 C1285.12,1201.8 1287.17,1203.5 1292.2,1204.1 C1297.23,1204.7 1303.27,1205.1 1310.3,1205.3 C1317.33,1205.5 1327.37,1205.5 1334.4,1205.3 C1341.43,1205.1 1346.47,1204.8 1352.5,1204.1 C1358.53,1203.4 1365.57,1201.4 1370.6,1201.1 C1375.63,1200.8 1378.68,1201.8 1382.7,1202.3 C1386.72,1202.8 1389.08,1203.48 1394.7,1204.1 C1400.32,1204.72 1412.78,1205.68 1416.4,1206" fill="none" stroke="#ff99ff" stroke-width="9.3" stroke-linejoin="miter" stroke-miterlimit="10" stroke-linecap="butt"/>
<line x1="1361.6" y1="1019.3" x2="1361.6" y2="1206.6" stroke="#000000" stroke-width="7" stroke-linecap="round"/>
<path d="M178.5,1646.6 C187.65,1645.9 218.42,1644.08 233.4,1642.4 C248.38,1640.72 256.73,1639.03 268.4,1636.5 C280.07,1633.97 293.13,1629.57 303.4,1627.2 C313.67,1624.83 321.28,1623.87 330,1622.3 C338.72,1620.73 347.15,1618.98 355.7,1617.8 C364.25,1616.62 373.82,1616.38 381.3,1615.2 C388.78,1614.02 394.17,1613.05 400.6,1610.7 C407.03,1608.35 413.48,1604.95 419.9,1601.1 C426.32,1597.25 432.68,1591.77 439.1,1587.6 C445.52,1583.43 452.62,1579.08 458.4,1576.1 C464.18,1573.12 468.88,1571.1 473.8,1569.7 C478.72,1568.3 482.98,1567.7 487.9,1567.7 C492.82,1567.7 498.6,1568.83 503.3,1569.7 C508,1570.57 511.65,1571.77 516.1,1572.9 C520.55,1574.03 525.07,1575.12 530,1576.5 C534.93,1577.88 538.82,1578.7 545.7,1581.2 C552.58,1583.7 562.75,1587.87 571.3,1591.5 C579.85,1595.13 588.43,1598.93 597,1603 C605.57,1607.07 614.13,1611.62 622.7,1615.9 C631.27,1620.18 639.85,1625.07 648.4,1628.7 C656.95,1632.33 665.45,1635.57 674,1637.7 C682.55,1639.83 691.13,1640.58 699.7,1641.5 C708.27,1642.42 715.98,1642.65 725.4,1643.2 C734.82,1643.75 751.07,1644.53 756.2,1644.8" fill="none" stroke="#0000ff" stroke-width="9.3" stroke-linejoin="round" stroke-miterlimit="10" stroke-linecap="butt"/>
<path d="M246.9,1648.2 C252.42,1647.93 269.42,1646.88 280,1646.6 C290.58,1646.32 302.07,1647.55 310.4,1646.5 C318.73,1645.45 324.6,1642.08 330,1640.3 C335.4,1638.52 338.52,1637.3 342.8,1635.8 C347.08,1634.3 351.42,1633.12 355.7,1631.3 C359.98,1629.48 364.65,1627.25 368.5,1624.9 C372.35,1622.55 376.02,1619.98 378.8,1617.2 C381.58,1614.42 383.07,1612.07 385.2,1608.2 C387.33,1604.33 389.47,1599.57 391.6,1594 C393.73,1588.43 395.85,1581.22 398,1574.8 C400.15,1568.38 402.35,1561.7 404.5,1555.5 C406.65,1549.3 408.33,1543.58 410.9,1537.6 C413.47,1531.62 416.92,1525.38 419.9,1519.6 C422.88,1513.82 426.03,1508.25 428.8,1502.9 C431.57,1497.55 433.93,1492.63 436.5,1487.5 C439.07,1482.37 441.42,1476.17 444.2,1472.1 C446.98,1468.03 450.42,1464.38 453.2,1463.1 C455.98,1461.82 458.33,1462.27 460.9,1464.4 C463.47,1466.53 466.03,1470.13 468.6,1475.9 C471.17,1481.67 473.73,1490.43 476.3,1499 C478.87,1507.57 481.43,1518.3 484,1527.3 C486.57,1536.3 489.13,1545.08 491.7,1553 C494.27,1560.92 496.4,1568.17 499.4,1574.8 C502.4,1581.43 506.27,1587.27 509.7,1592.8 C513.13,1598.33 516.95,1603.88 520,1608 C523.05,1612.12 525.43,1615.12 528,1617.5 C530.57,1619.88 532.45,1620 535.4,1622.3 C538.35,1624.6 542.28,1628.52 545.7,1631.3 C549.12,1634.08 552.27,1637.08 555.9,1639 C559.53,1640.92 562.78,1642.17 567.5,1642.8 C572.22,1643.43 579.28,1642.58 584.2,1642.8 C589.12,1643.02 592.37,1643.52 597,1644.1 C601.63,1644.68 607.83,1645.87 612,1646.3 C616.17,1646.73 620.33,1646.63 622,1646.7" fill="none" stroke="#ff99ff" stroke-width="9.3" stroke-linejoin="round" stroke-miterlimit="10" stroke-linecap="butt"/>
<line x1="547.9" y1="1452.8" x2="547.9" y2="1646.5" stroke="#000000" stroke-width="7" stroke-linecap="round"/>
<path d="M1231.3,1646.2 C1234.33,1645.67 1244.3,1644.52 1249.5,1643 C1254.7,1641.48 1258.6,1639.8 1262.5,1637.1 C1266.4,1634.4 1269.67,1630.9 1272.9,1626.8 C1276.13,1622.7 1279.1,1617.48 1281.9,1612.5 C1284.7,1607.52 1287.1,1602.53 1289.7,1596.9 C1292.3,1591.27 1294.9,1584.12 1297.5,1578.7 C1300.1,1573.28 1302.48,1568.4 1305.3,1564.4 C1308.12,1560.4 1310.72,1557.52 1314.4,1554.7 C1318.08,1551.88 1323.5,1549.78 1327.4,1547.5 C1331.3,1545.22 1334.55,1544.02 1337.8,1541 C1341.05,1537.98 1343.65,1534.15 1346.9,1529.4 C1350.15,1524.65 1354.05,1517.48 1357.3,1512.5 C1360.55,1507.52 1363.8,1502.43 1366.4,1499.5 C1369,1496.57 1370.53,1495.12 1372.9,1494.9 C1375.27,1494.68 1378.02,1495.7 1380.6,1498.2 C1383.18,1500.7 1385.8,1504.92 1388.4,1509.9 C1391,1514.88 1393.6,1521.18 1396.2,1528.1 C1398.8,1535.02 1401.4,1543.83 1404,1551.4 C1406.6,1558.97 1409.2,1567 1411.8,1573.5 C1414.4,1580 1416.78,1585.42 1419.6,1590.4 C1422.42,1595.38 1425.23,1599.28 1428.7,1603.4 C1432.17,1607.52 1436.28,1611.42 1440.4,1615.1 C1444.52,1618.78 1449.07,1622.27 1453.4,1625.5 C1457.73,1628.73 1462.07,1631.92 1466.4,1634.5 C1470.73,1637.08 1475.08,1639.37 1479.4,1641 C1483.72,1642.63 1487.87,1643.53 1492.3,1644.3 C1496.73,1645.07 1503.72,1645.38 1506,1645.6" fill="none" stroke="#0000ff" stroke-width="9.3" stroke-linejoin="round" stroke-miterlimit="10" stroke-linecap="butt"/>
<polyline points="927.9,1646.6 961,1641.9 986.7,1646.6 1021.7,1645.2 1033.4,1642.5 1055,1644.5 1070,1645.5 1081.3,1645.1 1090.1,1639.4 1107.6,1625.6 1122.7,1615.6 1131.5,1605.6 1140.2,1584.3 1150.3,1559.2 1156.6,1540.4 1164.1,1510.2 1171.6,1471.4 1180.4,1453.5 1189.2,1460.1 1196.7,1477.6 1205.5,1502.7 1213,1525.3 1220.5,1547.9 1229.3,1565.4 1236.8,1578 1243,1586 1256,1607.3 1266.4,1626.8 1275.5,1638.4 1288.4,1643.6 1307.9,1641.7 1333.9,1645.6 1359.9,1645.6 1385.8,1643.6 1409.2,1641 1431.3,1643.6 1461.8,1646.2" fill="none" stroke="#ff99ff" stroke-width="9.3" stroke-linejoin="miter" stroke-miterlimit="10" stroke-linecap="butt"/>
<line x1="1296.5" y1="1454.3" x2="1296.5" y2="1646.5" stroke="#000000" stroke-width="7" stroke-linecap="round"/>
<line x1="1675.5" y1="331.6" x2="2135.3" y2="331.6" stroke="#0000ff" stroke-width="5.0" stroke-linecap="butt"/>
<path d="M1707.7,334.1H1723.9V290.6H1707.7ZM1754.7,334.1H1771V290.6H1754.7ZM1778.3,334.1H1794.5V290.6H1778.3ZM1837.4,334.1H1853.3V290.6H1837.4ZM1895.8,334.1H1923.7V290.6H1895.8ZM1931,334.1H1947.6V174.2H1931ZM1947.6,334.1H1959V290.6H1947.6ZM1966.1,334.1H1978.1V290.6H1966.1ZM1978.1,334.1H1994.5V251.8H1978.1ZM2025,334.1H2041.3V251.8H2025ZM2041.3,334.1H2064.9V290.6H2041.3ZM2095.3,334.1H2111.7V290.6H2095.3ZM2118.9,334.1H2135.3V290.6H2118.9Z" fill="#0000ff"/>
<circle cx="1948.3" cy="213.5" r="11.3" fill="#0000ff" stroke="#000" stroke-width="4.5"/>
<line x1="1675.5" y1="767" x2="2220.7" y2="767" stroke="#0000ff" stroke-width="5.0" stroke-linecap="butt"/>
<path d="M1716.1,769.5H1734.8V727.2H1716.1ZM1841.2,769.5H1928.9V727.2H1841.2ZM1966.3,769.5H1998.6V727.2H1966.3ZM2035.5,769.5H2067.9V727.2H2035.5ZM2077.2,769.5H2095.6V689.3H2077.2ZM2095.6,769.5H2105V727.2H2095.6ZM2105,769.5H2123.5V689.3H2105ZM2146.5,769.5H2178.9V727.2H2146.5ZM2202.2,769.5H2220.7V689.3H2202.2Z" fill="#0000ff"/>
<circle cx="2189" cy="653.6" r="11.3" fill="#0000ff" stroke="#000" stroke-width="4.5"/>
<line x1="1675.5" y1="1206.6" x2="2049.9" y2="1206.6" stroke="#0000ff" stroke-width="5.0" stroke-linecap="butt"/>
<path d="M1709.1,1209.1H1723.1V1166.7H1709.1ZM1737.9,1209.1H1751.9V1166.7H1737.9ZM1757.3,1209.1H1771.3V1166.7H1757.3ZM1814.7,1209.1H1829V1128.5H1814.7ZM1853.2,1209.1H1867.2V1166.7H1853.2ZM1882,1209.1H1896.1V1166.7H1882ZM1910.9,1209.1H1924.9V1166.7H1910.9ZM1930,1209.1H1953.7V1128.5H1930ZM1958.8,1209.1H1972.8V1128.5H1958.8ZM1972.8,1209.1H1982.7V1166.7H1972.8ZM1987.6,1209.1H2011.5V1166.7H1987.6ZM2026.1,1209.1H2040V1128.5H2026.1ZM2040,1209.1H2049.9V1166.7H2040Z" fill="#0000ff"/>
<circle cx="1948.5" cy="1093.2" r="11.3" fill="#0000ff" stroke="#000" stroke-width="4.5"/>
<line x1="1675.5" y1="1646.5" x2="2192.1" y2="1646.5" stroke="#0000ff" stroke-width="5.0" stroke-linecap="butt"/>
<path d="M1713.5,1649H1731.6V1605.6H1713.5ZM1818.7,1649H1836.8V1605.6H1818.7ZM1871.5,1649H1889.6V1566.7H1871.5ZM1910.9,1649H1942V1605.6H1910.9ZM1963.8,1649H1981.3V1605.6H1963.8ZM1990.1,1649H2007.9V1605.6H1990.1ZM2016.2,1649H2034.2V1488.9H2016.2ZM2034.2,1649H2047.5V1605.6H2034.2ZM2055.8,1649H2069.1V1605.6H2055.8ZM2069.1,1649H2099.9V1566.7H2069.1ZM2121.7,1649H2139.5V1605.6H2121.7ZM2174.4,1649H2192.1V1605.6H2174.4Z" fill="#0000ff"/>
<circle cx="2031.7" cy="1528.4" r="11.3" fill="#0000ff" stroke="#000" stroke-width="4.5"/>
<text x="74.55" y="180.96" font-size="55" fill="#4c4c4f">0.2</text>
<text x="74.35" y="265.36" font-size="55" fill="#4c4c4f">0.<tspan dx="1.95">1</tspan></text>
<rect x="125.16" y="259.65" width="10.79" height="7.31" fill="#fff"/><rect x="140.91" y="259.65" width="10.36" height="7.31" fill="#fff"/>
<text x="126.85" y="350.66" font-size="55" fill="#4c4c4f">0</text>
<text x="880.61" y="251.8" font-size="55" fill="#4c4c4f">1</text>
<rect x="885.55" y="246.09" width="10.79" height="7.31" fill="#fff"/><rect x="901.3" y="246.09" width="10.36" height="7.31" fill="#fff"/>
<text x="876.75" y="351.76" font-size="55" fill="#4c4c4f">0</text>
<text x="1623.3" y="156.96" font-size="55" fill="#4c4c4f">5</text>
<text x="1623.35" y="351.56" font-size="55" fill="#4c4c4f">0</text>
<text x="74.15" y="666.76" font-size="55" fill="#4c4c4f">0.<tspan dx="1.95">1</tspan></text>
<rect x="124.96" y="661.05" width="10.79" height="7.31" fill="#fff"/><rect x="140.71" y="661.05" width="10.36" height="7.31" fill="#fff"/>
<text x="126.75" y="785.76" font-size="55" fill="#4c4c4f">0</text>
<text x="824.05" y="688.96" font-size="55" fill="#4c4c4f">0.5</text>
<text x="877.65" y="788.06" font-size="55" fill="#4c4c4f">0</text>
<text x="1623.3" y="597.36" font-size="55" fill="#4c4c4f">5</text>
<text x="1623.35" y="787.76" font-size="55" fill="#4c4c4f">0</text>
<text x="74.15" y="1093.96" font-size="55" fill="#4c4c4f">0.2</text>
<text x="74.15" y="1160.46" font-size="55" fill="#4c4c4f">0.<tspan dx="1.95">1</tspan></text>
<rect x="124.96" y="1154.75" width="10.79" height="7.31" fill="#fff"/><rect x="140.71" y="1154.75" width="10.36" height="7.31" fill="#fff"/>
<text x="126.75" y="1225.76" font-size="55" fill="#4c4c4f">0</text>
<text x="875.93" y="1047.8" font-size="55" fill="#4c4c4f">2</text>
<text x="881.71" y="1137.6" font-size="55" fill="#4c4c4f">1</text>
<rect x="886.65" y="1131.89" width="10.79" height="7.31" fill="#fff"/><rect x="902.4" y="1131.89" width="10.36" height="7.31" fill="#fff"/>
<text x="876.55" y="1226.96" font-size="55" fill="#4c4c4f">0</text>
<text x="1623.3" y="1037.36" font-size="55" fill="#4c4c4f">5</text>
<text x="1623.35" y="1227.76" font-size="55" fill="#4c4c4f">0</text>
<text x="74.15" y="1568.96" font-size="55" fill="#4c4c4f">0.<tspan dx="1.95">1</tspan></text>
<rect x="124.96" y="1563.25" width="10.79" height="7.31" fill="#fff"/><rect x="140.71" y="1563.25" width="10.36" height="7.31" fill="#fff"/>
<text x="126.75" y="1665.76" font-size="55" fill="#4c4c4f">0</text>
<text x="881.71" y="1543.8" font-size="55" fill="#4c4c4f">1</text>
<rect x="886.65" y="1538.09" width="10.79" height="7.31" fill="#fff"/><rect x="902.4" y="1538.09" width="10.36" height="7.31" fill="#fff"/>
<text x="876.55" y="1666.96" font-size="55" fill="#4c4c4f">0</text>
<text x="1623.3" y="1472.26" font-size="55" fill="#4c4c4f">5</text>
<text x="1623.35" y="1667.16" font-size="55" fill="#4c4c4f">0</text>
<text x="208.48" y="404.6" font-size="55" fill="#231f20">-5</text>
<text x="329.71" y="404.6" font-size="55" fill="#231f20">0</text>
<text x="435.61" y="404.6" font-size="55" fill="#231f20">5</text>
<text x="522.47" y="404.6" font-size="55" fill="#231f20"><tspan dx="1.95">1</tspan><tspan dx="-1.95">0</tspan></text>
<rect x="527.41" y="398.89" width="10.79" height="7.31" fill="#fff"/><rect x="543.16" y="398.89" width="10.36" height="7.31" fill="#fff"/>
<text x="627.73" y="404.6" font-size="55" fill="#231f20"><tspan dx="1.95">1</tspan><tspan dx="-1.95">5</tspan></text>
<rect x="632.67" y="398.89" width="10.79" height="7.31" fill="#fff"/><rect x="648.42" y="398.89" width="10.36" height="7.31" fill="#fff"/>
<text x="898.26" y="404.6" font-size="55" fill="#231f20">-2</text>
<text x="1127.86" y="404.6" font-size="55" fill="#231f20">0</text>
<text x="1342.01" y="404.6" font-size="55" fill="#231f20">2</text>
<text x="170.06" y="839.5" font-size="55" fill="#231f20">-<tspan dx="1.95">1</tspan><tspan dx="-1.95">0</tspan></text>
<rect x="193.31" y="833.79" width="10.79" height="7.31" fill="#fff"/><rect x="209.06" y="833.79" width="10.36" height="7.31" fill="#fff"/>
<text x="369.76" y="839.5" font-size="55" fill="#231f20">0</text>
<text x="518.37" y="839.5" font-size="55" fill="#231f20"><tspan dx="1.95">1</tspan><tspan dx="-1.95">0</tspan></text>
<rect x="523.31" y="833.79" width="10.79" height="7.31" fill="#fff"/><rect x="539.06" y="833.79" width="10.36" height="7.31" fill="#fff"/>
<text x="684.2" y="839.5" font-size="55" fill="#231f20">20</text>
<text x="898.26" y="839.5" font-size="55" fill="#231f20">-2</text>
<text x="1152.91" y="839.5" font-size="55" fill="#231f20">0</text>
<text x="1391.96" y="839.5" font-size="55" fill="#231f20">2</text>
<text x="142.06" y="1279.9" font-size="55" fill="#231f20">-<tspan dx="1.95">1</tspan><tspan dx="-1.95">0</tspan></text>
<rect x="165.31" y="1274.19" width="10.79" height="7.31" fill="#fff"/><rect x="181.06" y="1274.19" width="10.36" height="7.31" fill="#fff"/>
<text x="399.51" y="1279.9" font-size="55" fill="#231f20">0</text>
<text x="606.17" y="1279.9" font-size="55" fill="#231f20"><tspan dx="1.95">1</tspan><tspan dx="-1.95">0</tspan></text>
<rect x="611.11" y="1274.19" width="10.79" height="7.31" fill="#fff"/><rect x="626.86" y="1274.19" width="10.36" height="7.31" fill="#fff"/>
<text x="898.26" y="1279.9" font-size="55" fill="#231f20">-2</text>
<text x="1150.76" y="1279.9" font-size="55" fill="#231f20">0</text>
<text x="1386.81" y="1279.9" font-size="55" fill="#231f20">2</text>
<text x="224.86" y="1719.8" font-size="55" fill="#231f20">-<tspan dx="1.95">1</tspan><tspan dx="-1.95">0</tspan></text>
<rect x="248.11" y="1714.09" width="10.79" height="7.31" fill="#fff"/><rect x="263.86" y="1714.09" width="10.36" height="7.31" fill="#fff"/>
<text x="434.11" y="1719.8" font-size="55" fill="#231f20">0</text>
<text x="592.67" y="1719.8" font-size="55" fill="#231f20"><tspan dx="1.95">1</tspan><tspan dx="-1.95">0</tspan></text>
<rect x="597.61" y="1714.09" width="10.79" height="7.31" fill="#fff"/><rect x="613.36" y="1714.09" width="10.36" height="7.31" fill="#fff"/>
<text x="898.26" y="1719.8" font-size="55" fill="#231f20">-2</text>
<text x="1170.26" y="1719.8" font-size="55" fill="#231f20">0</text>
<text x="1425.96" y="1719.8" font-size="55" fill="#231f20">2</text>
<text x="0" y="0" font-size="55" fill="#231f20" text-anchor="end" transform="translate(1703.3 400.7) rotate(-45)"><tspan dx="1.95">1</tspan><tspan dx="-1.95">9</tspan>55</text>
<g transform="translate(1703.3 400.7) rotate(-45)"><rect x="-117.41" y="-5.71" width="10.79" height="7.31" fill="#fff"/><rect x="-101.66" y="-5.71" width="10.36" height="7.31" fill="#fff"/></g>
<text x="0" y="0" font-size="55" fill="#231f20" text-anchor="end" transform="translate(1845.6 400.7) rotate(-45)"><tspan dx="1.95">1</tspan><tspan dx="-1.95">9</tspan>65</text>
<g transform="translate(1845.6 400.7) rotate(-45)"><rect x="-117.41" y="-5.71" width="10.79" height="7.31" fill="#fff"/><rect x="-101.66" y="-5.71" width="10.36" height="7.31" fill="#fff"/></g>
<text x="0" y="0" font-size="55" fill="#231f20" text-anchor="end" transform="translate(1987.9 400.7) rotate(-45)"><tspan dx="1.95">1</tspan><tspan dx="-1.95">9</tspan>75</text>
<g transform="translate(1987.9 400.7) rotate(-45)"><rect x="-117.41" y="-5.71" width="10.79" height="7.31" fill="#fff"/><rect x="-101.66" y="-5.71" width="10.36" height="7.31" fill="#fff"/></g>
<text x="0" y="0" font-size="55" fill="#231f20" text-anchor="end" transform="translate(2130.2 400.7) rotate(-45)"><tspan dx="1.95">1</tspan><tspan dx="-1.95">9</tspan>85</text>
<g transform="translate(2130.2 400.7) rotate(-45)"><rect x="-117.41" y="-5.71" width="10.79" height="7.31" fill="#fff"/><rect x="-101.66" y="-5.71" width="10.36" height="7.31" fill="#fff"/></g>
<text x="0" y="0" font-size="55" fill="#231f20" text-anchor="end" transform="translate(2272.5 400.7) rotate(-45)"><tspan dx="1.95">1</tspan><tspan dx="-1.95">9</tspan>95</text>
<g transform="translate(2272.5 400.7) rotate(-45)"><rect x="-117.41" y="-5.71" width="10.79" height="7.31" fill="#fff"/><rect x="-101.66" y="-5.71" width="10.36" height="7.31" fill="#fff"/></g>
<text x="0" y="0" font-size="55" fill="#231f20" text-anchor="end" transform="translate(1703.3 836.1) rotate(-45)"><tspan dx="1.95">1</tspan><tspan dx="-1.95">9</tspan>55</text>
<g transform="translate(1703.3 836.1) rotate(-45)"><rect x="-117.41" y="-5.71" width="10.79" height="7.31" fill="#fff"/><rect x="-101.66" y="-5.71" width="10.36" height="7.31" fill="#fff"/></g>
<text x="0" y="0" font-size="55" fill="#231f20" text-anchor="end" transform="translate(1845.6 836.1) rotate(-45)"><tspan dx="1.95">1</tspan><tspan dx="-1.95">9</tspan>65</text>
<g transform="translate(1845.6 836.1) rotate(-45)"><rect x="-117.41" y="-5.71" width="10.79" height="7.31" fill="#fff"/><rect x="-101.66" y="-5.71" width="10.36" height="7.31" fill="#fff"/></g>
<text x="0" y="0" font-size="55" fill="#231f20" text-anchor="end" transform="translate(1987.9 836.1) rotate(-45)"><tspan dx="1.95">1</tspan><tspan dx="-1.95">9</tspan>75</text>
<g transform="translate(1987.9 836.1) rotate(-45)"><rect x="-117.41" y="-5.71" width="10.79" height="7.31" fill="#fff"/><rect x="-101.66" y="-5.71" width="10.36" height="7.31" fill="#fff"/></g>
<text x="0" y="0" font-size="55" fill="#231f20" text-anchor="end" transform="translate(2130.2 836.1) rotate(-45)"><tspan dx="1.95">1</tspan><tspan dx="-1.95">9</tspan>85</text>
<g transform="translate(2130.2 836.1) rotate(-45)"><rect x="-117.41" y="-5.71" width="10.79" height="7.31" fill="#fff"/><rect x="-101.66" y="-5.71" width="10.36" height="7.31" fill="#fff"/></g>
<text x="0" y="0" font-size="55" fill="#231f20" text-anchor="end" transform="translate(2272.5 836.1) rotate(-45)"><tspan dx="1.95">1</tspan><tspan dx="-1.95">9</tspan>95</text>
<g transform="translate(2272.5 836.1) rotate(-45)"><rect x="-117.41" y="-5.71" width="10.79" height="7.31" fill="#fff"/><rect x="-101.66" y="-5.71" width="10.36" height="7.31" fill="#fff"/></g>
<text x="0" y="0" font-size="55" fill="#231f20" text-anchor="end" transform="translate(1703.3 1275.7) rotate(-45)"><tspan dx="1.95">1</tspan><tspan dx="-1.95">9</tspan>55</text>
<g transform="translate(1703.3 1275.7) rotate(-45)"><rect x="-117.41" y="-5.71" width="10.79" height="7.31" fill="#fff"/><rect x="-101.66" y="-5.71" width="10.36" height="7.31" fill="#fff"/></g>
<text x="0" y="0" font-size="55" fill="#231f20" text-anchor="end" transform="translate(1845.6 1275.7) rotate(-45)"><tspan dx="1.95">1</tspan><tspan dx="-1.95">9</tspan>65</text>
<g transform="translate(1845.6 1275.7) rotate(-45)"><rect x="-117.41" y="-5.71" width="10.79" height="7.31" fill="#fff"/><rect x="-101.66" y="-5.71" width="10.36" height="7.31" fill="#fff"/></g>
<text x="0" y="0" font-size="55" fill="#231f20" text-anchor="end" transform="translate(1987.9 1275.7) rotate(-45)"><tspan dx="1.95">1</tspan><tspan dx="-1.95">9</tspan>75</text>
<g transform="translate(1987.9 1275.7) rotate(-45)"><rect x="-117.41" y="-5.71" width="10.79" height="7.31" fill="#fff"/><rect x="-101.66" y="-5.71" width="10.36" height="7.31" fill="#fff"/></g>
<text x="0" y="0" font-size="55" fill="#231f20" text-anchor="end" transform="translate(2130.2 1275.7) rotate(-45)"><tspan dx="1.95">1</tspan><tspan dx="-1.95">9</tspan>85</text>
<g transform="translate(2130.2 1275.7) rotate(-45)"><rect x="-117.41" y="-5.71" width="10.79" height="7.31" fill="#fff"/><rect x="-101.66" y="-5.71" width="10.36" height="7.31" fill="#fff"/></g>
<text x="0" y="0" font-size="55" fill="#231f20" text-anchor="end" transform="translate(2272.5 1275.7) rotate(-45)"><tspan dx="1.95">1</tspan><tspan dx="-1.95">9</tspan>95</text>
<g transform="translate(2272.5 1275.7) rotate(-45)"><rect x="-117.41" y="-5.71" width="10.79" height="7.31" fill="#fff"/><rect x="-101.66" y="-5.71" width="10.36" height="7.31" fill="#fff"/></g>
<text x="0" y="0" font-size="55" fill="#231f20" text-anchor="end" transform="translate(1703.3 1715.6) rotate(-45)"><tspan dx="1.95">1</tspan><tspan dx="-1.95">9</tspan>55</text>
<g transform="translate(1703.3 1715.6) rotate(-45)"><rect x="-117.41" y="-5.71" width="10.79" height="7.31" fill="#fff"/><rect x="-101.66" y="-5.71" width="10.36" height="7.31" fill="#fff"/></g>
<text x="0" y="0" font-size="55" fill="#231f20" text-anchor="end" transform="translate(1845.6 1715.6) rotate(-45)"><tspan dx="1.95">1</tspan><tspan dx="-1.95">9</tspan>65</text>
<g transform="translate(1845.6 1715.6) rotate(-45)"><rect x="-117.41" y="-5.71" width="10.79" height="7.31" fill="#fff"/><rect x="-101.66" y="-5.71" width="10.36" height="7.31" fill="#fff"/></g>
<text x="0" y="0" font-size="55" fill="#231f20" text-anchor="end" transform="translate(1987.9 1715.6) rotate(-45)"><tspan dx="1.95">1</tspan><tspan dx="-1.95">9</tspan>75</text>
<g transform="translate(1987.9 1715.6) rotate(-45)"><rect x="-117.41" y="-5.71" width="10.79" height="7.31" fill="#fff"/><rect x="-101.66" y="-5.71" width="10.36" height="7.31" fill="#fff"/></g>
<text x="0" y="0" font-size="55" fill="#231f20" text-anchor="end" transform="translate(2130.2 1715.6) rotate(-45)"><tspan dx="1.95">1</tspan><tspan dx="-1.95">9</tspan>85</text>
<g transform="translate(2130.2 1715.6) rotate(-45)"><rect x="-117.41" y="-5.71" width="10.79" height="7.31" fill="#fff"/><rect x="-101.66" y="-5.71" width="10.36" height="7.31" fill="#fff"/></g>
<text x="0" y="0" font-size="55" fill="#231f20" text-anchor="end" transform="translate(2272.5 1715.6) rotate(-45)"><tspan dx="1.95">1</tspan><tspan dx="-1.95">9</tspan>95</text>
<g transform="translate(2272.5 1715.6) rotate(-45)"><rect x="-117.41" y="-5.71" width="10.79" height="7.31" fill="#fff"/><rect x="-101.66" y="-5.71" width="10.36" height="7.31" fill="#fff"/></g>
<text x="105.16" y="47.49" font-size="55" font-weight="bold" fill="#231f20">(a)</text>
<text x="822.96" y="47.39" font-size="55" font-weight="bold" fill="#231f20">(b)</text>
<text x="1541.06" y="55.39" font-size="55" font-weight="bold" fill="#231f20">(c)</text>
<text x="104.66" y="532.79" font-size="55" font-weight="bold" fill="#231f20">(d)</text>
<text x="824.06" y="532.79" font-size="55" font-weight="bold" fill="#231f20">(e)</text>
<text x="1541.06" y="532.59" font-size="55" font-weight="bold" fill="#231f20">(f)</text>
<text x="104.66" y="980.64" font-size="55" font-weight="bold" fill="#231f20">(g)</text>
<text x="824.06" y="980.89" font-size="55" font-weight="bold" fill="#231f20">(h)</text>
<text x="1541.06" y="980.99" font-size="55" font-weight="bold" fill="#231f20">(i)</text>
<text x="104.66" y="1411.59" font-size="55" font-weight="bold" fill="#231f20">(j)</text>
<text x="824.06" y="1410.39" font-size="55" font-weight="bold" fill="#231f20">(k)</text>
<text x="1540.96" y="1410.69" font-size="55" font-weight="bold" fill="#231f20">(l)</text>
<text x="279.75" y="1793.3" font-size="60.8" fill="#231f20">days/decade</text>
<text x="1028.01" y="1793.3" font-size="60.8" fill="#231f20">days/decade</text>
<text x="0" y="0" font-size="62.3" fill="#4c4c4f" transform="translate(52.1 429.47) rotate(-90) scale(0.9746 1)">W.N. America</text>
<text x="0" y="0" font-size="62.3" fill="#4c4c4f" transform="translate(52.1 864.63) rotate(-90) scale(0.9642 1)">North Europe</text>
<text x="0" y="0" font-size="62.3" fill="#4c4c4f" transform="translate(52.1 1241.93) rotate(-90) scale(0.9647 1)">East Asia</text>
<text x="0" y="0" font-size="62.3" fill="#4c4c4f" transform="translate(52.1 1678.42) rotate(-90) scale(0.9531 1)">Australia</text>
</svg>
</body></html>
